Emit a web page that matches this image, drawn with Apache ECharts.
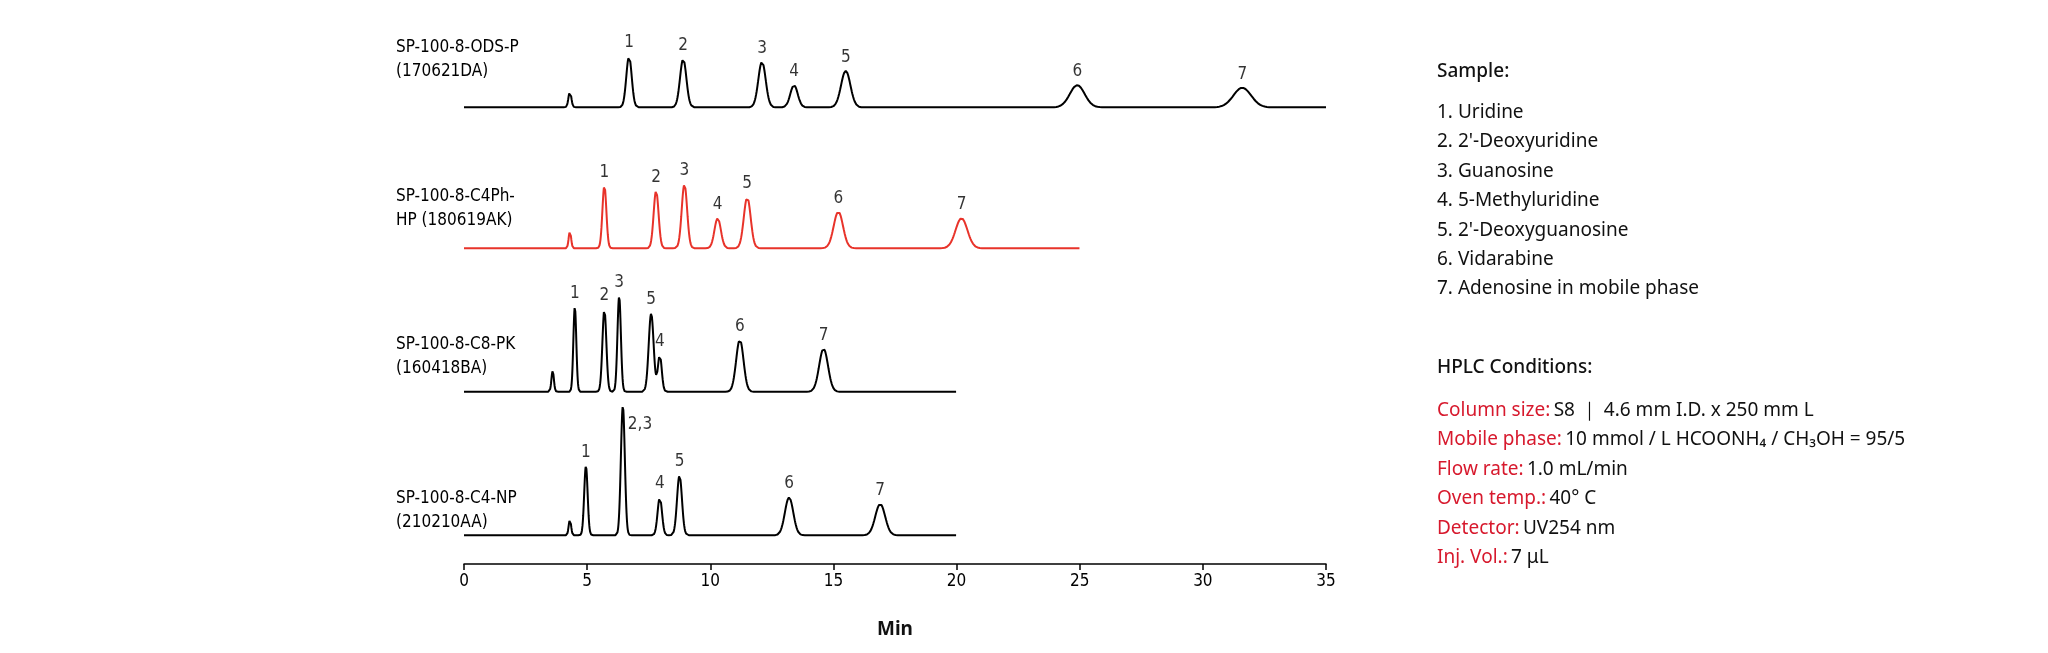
<!DOCTYPE html>
<html>
<head>
<meta charset="utf-8">
<script src="https://cdn.jsdelivr.net/npm/echarts@6/dist/echarts.min.js"></script>
<style>html,body{margin:0;padding:0;background:#fff}#chart{width:2048px;height:653px}</style>
</head>
<body>
<div id="chart"></div>
<script>
// peaks: [retention time (min), height, width (sigma, min), label]
var odsPeaks = [[4.3, 12, 0.06, ""], [6.7, 39, 0.11, "1"], [8.9, 37, 0.13, "2"], [12.1, 35, 0.15, "3"], [13.4, 17, 0.15, "4"], [15.5, 28, 0.19, "5"], [24.9, 17, 0.3, "6"], [31.6, 15, 0.36, "7"]];
var c4phPeaks = [[4.3, 13, 0.05, ""], [5.7, 48, 0.08, "1"], [7.8, 44, 0.1, "2"], [8.95, 49, 0.11, "3"], [10.3, 23, 0.13, "4"], [11.5, 39, 0.14, "5"], [15.2, 28, 0.19, "6"], [20.2, 23, 0.24, "7"]];
var c8Peaks = [[3.6, 16, 0.05, ""], [4.5, 65, 0.06, "1"], [5.7, 63, 0.08, "2"], [6.3, 73, 0.07, "3"], [7.6, 60, 0.1, "5"], [7.95, 28, 0.08, "4"], [11.2, 40, 0.15, "6"], [14.6, 33, 0.18, "7"]];
var c4Peaks = [[4.3, 12, 0.05, ""], [4.95, 53, 0.07, "1"], [6.45, 99, 0.08, "2,3"], [7.95, 29, 0.09, "4"], [8.75, 46, 0.1, "5"], [13.2, 29, 0.17, "6"], [16.9, 24, 0.2, "7"]];

var traces = [
  { name: "SP-100-8-ODS-P\n(170621DA)", peaks: odsPeaks, base: 350, end: 35, color: "#000", nameY: 36 },
  { name: "SP-100-8-C4Ph-\nHP (180619AK)", peaks: c4phPeaks, base: 242, end: 25, color: "#e8332a", nameY: 185 },
  { name: "SP-100-8-C8-PK\n(160418BA)", peaks: c8Peaks, base: 132, end: 20, color: "#000", nameY: 333 },
  { name: "SP-100-8-C4-NP\n(210210AA)", peaks: c4Peaks, base: 22, end: 20, color: "#000", nameY: 487 }
];
var xTicks = [0, 5, 10, 15, 20, 25, 30, 35];

var sampleList = ["1. Uridine", "2. 2'-Deoxyuridine", "3. Guanosine", "4. 5-Methyluridine", "5. 2'-Deoxyguanosine", "6. Vidarabine", "7. Adenosine in mobile phase"];
var conditions = [
  ["Column size:", "S8 ｜ 4.6 mm I.D. x 250 mm L"],
  ["Mobile phase:", "10 mmol / L HCOONH₄ / CH₃OH = 95/5"],
  ["Flow rate:", "1.0 mL/min"],
  ["Oven temp.:", "40° C"],
  ["Detector:", "UV254 nm"],
  ["Inj. Vol.:", "7 μL"]
];

function signal(peaks, t) {
  var s = 0;
  peaks.forEach(function (p) {
    var d = (t - p[0]) / p[2];
    s += p[1] * Math.exp(-0.5 * d * d);
  });
  return s;
}

var series = [];
var graphics = [];
traces.forEach(function (tr) {
  var pts = [];
  for (var t = 0; t <= tr.end + 1e-9; t += 0.01) pts.push([t, tr.base + signal(tr.peaks, t)]);
  series.push({ type: "line", data: pts, showSymbol: false, silent: true,
    lineStyle: { color: tr.color, width: 2 } });
  series.push({ type: "scatter", symbolSize: 0, silent: true,
    data: tr.peaks.filter(function (p) { return p[3]; }).map(function (p) {
      return { value: [p[0], tr.base + signal(tr.peaks, p[0])], name: p[3],
        label: p[3] === "2,3" ? { position: "right", offset: [0, 18] } : {} };
    }),
    label: { show: true, position: "top", distance: 5, formatter: "{b}",
      color: "#000", fontSize: 17, fontFamily: "DejaVu Sans Condensed" } });
  graphics.push({ type: "text", left: 396, top: tr.nameY,
    style: { text: tr.name, fill: "#000", font: "17px 'DejaVu Sans Condensed'", lineHeight: 24 } });
});

graphics.push({ type: "text", left: 1437, top: 62, style: { text: "Sample:", fill: "#111", font: "500 19px 'Noto Sans'" } });
sampleList.forEach(function (s, i) {
  graphics.push({ type: "text", left: 1437, top: 103 + i * 29.4, style: { text: s, fill: "#111", font: "19px 'Noto Sans'" } });
});
graphics.push({ type: "text", left: 1437, top: 358, style: { text: "HPLC Conditions:", fill: "#111", font: "500 19px 'Noto Sans'" } });
conditions.forEach(function (c, i) {
  graphics.push({ type: "text", left: 1437, top: 401 + i * 29.4, style: {
    text: "{r|" + c[0] + "} {b|" + c[1] + "}",
    rich: { r: { fill: "#d7192d", font: "19px 'Noto Sans'" }, b: { fill: "#111", font: "19px 'Noto Sans'" } } } });
});

var chart = echarts.init(document.getElementById("chart"));
chart.setOption({
  animation: false,
  grid: { left: 464, right: 722, top: 16, height: 548 },
  xAxis: {
    type: "value", min: 0, max: 35, interval: 5,
    name: "Min", nameLocation: "middle", nameGap: 56,
    nameTextStyle: { fontSize: 19, fontWeight: "bold", color: "#111", fontFamily: "Noto Sans" },
    axisLine: { lineStyle: { color: "#000", width: 1.5 } },
    axisTick: { length: 6, lineStyle: { color: "#000", width: 1.5 } },
    axisLabel: { color: "#000", fontSize: 17, fontFamily: "DejaVu Sans Condensed", margin: 9,
      formatter: function (v) { return xTicks.indexOf(v) >= 0 ? String(v) : ""; } },
    splitLine: { show: false }
  },
  yAxis: { type: "value", min: 0, max: 420, show: false },
  graphic: graphics,
  series: series
});
</script>
</body>
</html>
